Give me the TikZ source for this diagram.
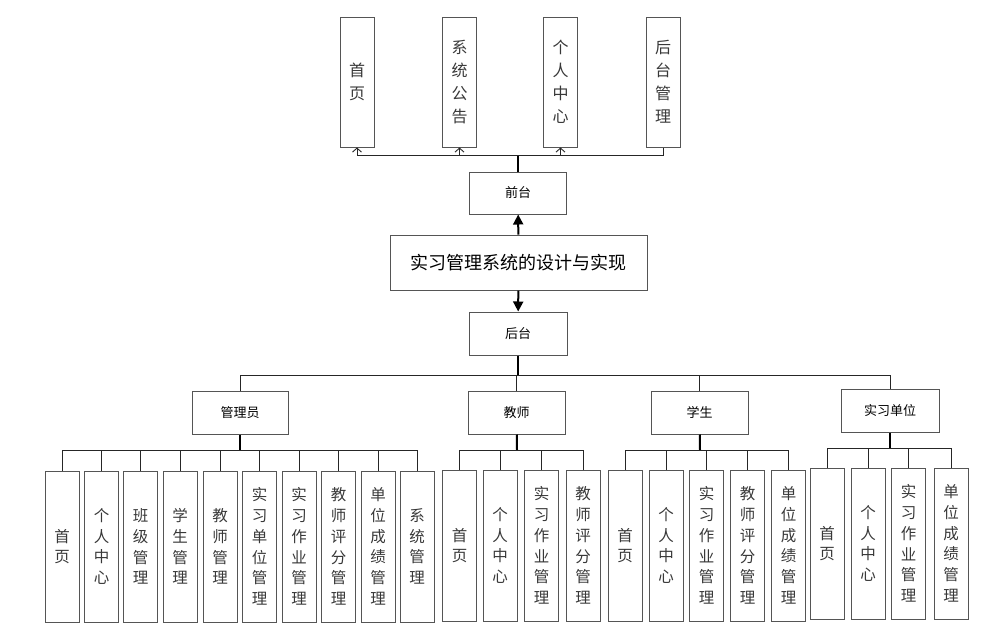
\documentclass[tikz,border=0pt]{standalone}
\usepackage{fontspec}
\setmainfont{Noto Sans CJK SC}
\usetikzlibrary{arrows.meta}

\definecolor{boxgray}{HTML}{555555}
\definecolor{txtgray}{HTML}{383838}

\begin{document}
\begin{tikzpicture}[x=1pt, y=-1pt,
    box/.style={draw=boxgray, line width=1pt, rectangle, inner sep=0pt, align=center},
    topbox/.style={box, minimum width=34pt, minimum height=130pt, text=txtgray, font=\fontsize{16}{23}\selectfont},
    leafbox/.style={box, minimum width=34pt, minimum height=151pt, text=txtgray, font=\fontsize{15.5}{20.7}\selectfont},
    rolebox/.style={box, minimum width=97pt, minimum height=43pt, font=\fontsize{13}{15}\selectfont},
    link/.style={draw=black!85, line width=0.9pt},
    stem/.style={draw=black, line width=2pt},
    toparrow/.style={link, -{Straight Barb[length=4pt, width=9pt]}},
    mainarrow/.style={stem, -{Triangle[length=10pt, width=10pt]}}]
    \useasboundingbox (0,0) rectangle (994,641);

    % front end
    \node[topbox] (home) at (357,82) {首\\页};
    \node[topbox] (notice) at (459.5,82) {系\\统\\公\\告};
    \node[topbox] (center) at (560.5,82) {个\\人\\中\\心};
    \node[topbox] (backadmin) at (663,82) {后\\台\\管\\理};
    \node[rolebox, minimum height=42pt] (front) at (518,193) {前台};

    % main title
    \node[box, minimum width=257pt, minimum height=55pt, font=\fontsize{18}{20}\selectfont] (sys) at (518.5,262.5) {实习管理系统的设计与实现};

    % back end
    \node[rolebox, minimum width=98pt] (back) at (518,333.5) {后台};
    \node[rolebox, minimum width=96pt] (admin) at (240,412.5) {管理员};
    \node[rolebox] (teacher) at (516.5,412.5) {教师};
    \node[rolebox] (student) at (699.5,412.5) {学生};
    \node[rolebox, minimum width=98pt] (unit) at (890,410.5) {实习单位};

    % admin modules
    \node[leafbox] (a1) at (62,546.5) {首\\页};
    \node[leafbox] (a2) at (101.5,546.5) {个\\人\\中\\心};
    \node[leafbox] (a3) at (140.5,546.5) {班\\级\\管\\理};
    \node[leafbox] (a4) at (180,546.5) {学\\生\\管\\理};
    \node[leafbox] (a5) at (220,546.5) {教\\师\\管\\理};
    \node[leafbox] (a6) at (259.5,546.5) {实\\习\\单\\位\\管\\理};
    \node[leafbox] (a7) at (299,546.5) {实\\习\\作\\业\\管\\理};
    \node[leafbox] (a8) at (338.5,546.5) {教\\师\\评\\分\\管\\理};
    \node[leafbox] (a9) at (378,546.5) {单\\位\\成\\绩\\管\\理};
    \node[leafbox] (a10) at (417,546.5) {系\\统\\管\\理};

    % teacher modules
    \node[leafbox] (t1) at (459.5,545.5) {首\\页};
    \node[leafbox] (t2) at (500,545.5) {个\\人\\中\\心};
    \node[leafbox] (t3) at (541.5,545.5) {实\\习\\作\\业\\管\\理};
    \node[leafbox] (t4) at (583,545.5) {教\\师\\评\\分\\管\\理};

    % student modules
    \node[leafbox] (s1) at (625,545.5) {首\\页};
    \node[leafbox] (s2) at (666,545.5) {个\\人\\中\\心};
    \node[leafbox] (s3) at (706.5,545.5) {实\\习\\作\\业\\管\\理};
    \node[leafbox] (s4) at (747.5,545.5) {教\\师\\评\\分\\管\\理};
    \node[leafbox] (s5) at (788.5,545.5) {单\\位\\成\\绩\\管\\理};

    % unit modules
    \node[leafbox] (u1) at (827,543.5) {首\\页};
    \node[leafbox] (u2) at (868,543.5) {个\\人\\中\\心};
    \node[leafbox] (u3) at (908.5,543.5) {实\\习\\作\\业\\管\\理};
    \node[leafbox] (u4) at (951,543.5) {单\\位\\成\\绩\\管\\理};

    % junctions
    \coordinate (frontbar) at (518,155);
    \coordinate (backbar) at (518,375);
    \coordinate (abar) at (240,450);
    \coordinate (tbar) at (517,450);
    \coordinate (sbar) at (700,450);
    \coordinate (ubar) at (890,448);

    \draw[mainarrow] (sys) -- (front);
    \draw[mainarrow] (sys) -- (back);

    \draw[stem] (front) -- (frontbar);
    \draw[toparrow] (frontbar) -| (home);
    \draw[toparrow] (frontbar) -| (notice);
    \draw[toparrow] (frontbar) -| (center);
    \draw[link] (frontbar) -| (backadmin);

    \draw[stem] (back) -- (backbar);
    \draw[link] (backbar) -| (admin) (backbar) -| (teacher)
        (backbar) -| (student) (backbar) -| (unit);

    \draw[stem] (admin) -- (abar);
    \draw[link] (abar) -| (a1) (abar) -| (a2) (abar) -| (a3) (abar) -| (a4)
        (abar) -| (a5) (abar) -| (a6) (abar) -| (a7) (abar) -| (a8)
        (abar) -| (a9) (abar) -| (a10);
    \draw[stem] (teacher) -- (tbar);
    \draw[link] (tbar) -| (t1) (tbar) -| (t2) (tbar) -| (t3) (tbar) -| (t4);
    \draw[stem] (student) -- (sbar);
    \draw[link] (sbar) -| (s1) (sbar) -| (s2) (sbar) -| (s3) (sbar) -| (s4)
        (sbar) -| (s5);
    \draw[stem] (unit) -- (ubar);
    \draw[link] (ubar) -| (u1) (ubar) -| (u2) (ubar) -| (u3) (ubar) -| (u4);
\end{tikzpicture}
\end{document}
